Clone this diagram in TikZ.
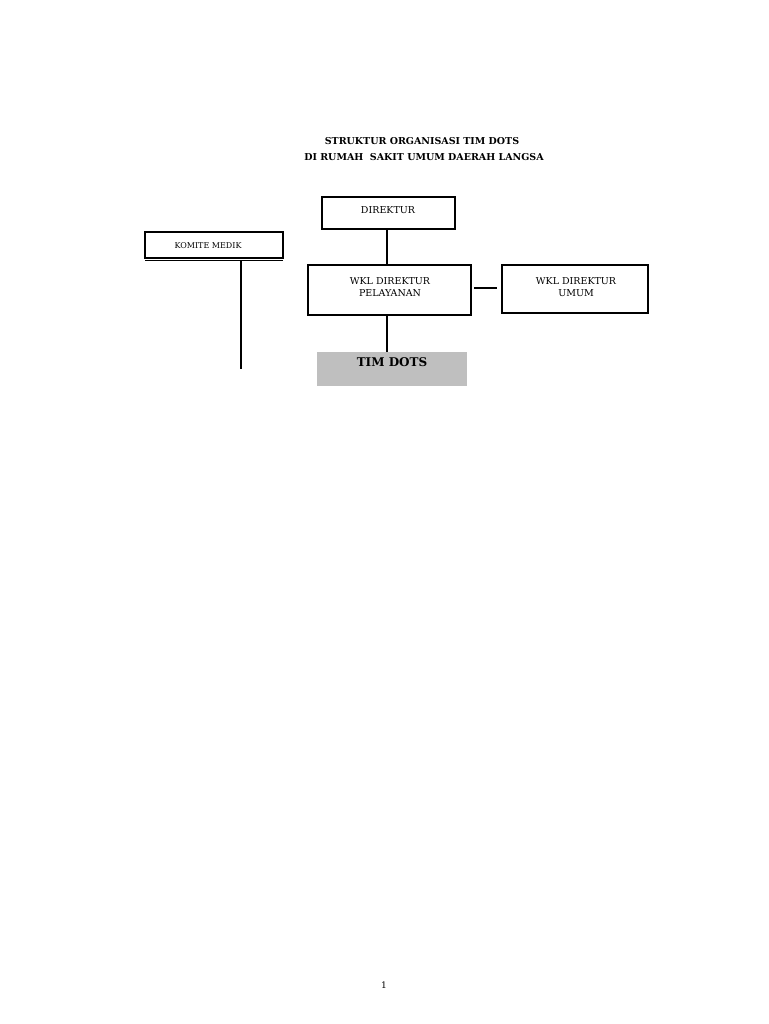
\documentclass[tikz,border=0pt]{standalone}
\usepackage{fontspec}
\setmainfont{DejaVu Serif}
\begin{document}
\begin{tikzpicture}[x=1pt,y=-1pt,
  box/.style={draw,line width=2.6pt,inner sep=0pt},
  conn/.style={line width=2.6pt},
  lbl/.style={font=\fontsize{9.5}{12}\selectfont,align=center,inner sep=0pt}]
\useasboundingbox (0,0) rectangle (768,1024);
\node[font=\bfseries\fontsize{9.5}{12}\selectfont,inner sep=0pt] (t1) at (422,141) {STRUKTUR ORGANISASI TIM DOTS};
\node[font=\bfseries\fontsize{9.5}{12}\selectfont,inner sep=0pt] (t2) at (424,157) {DI RUMAH\ \ SAKIT UMUM DAERAH LANGSA};
\node[box,minimum width=133pt,minimum height=32pt] (dir) at (388.5,213) {};
\node[lbl] at (388,210) {DIREKTUR};
\node[box,line width=2pt,minimum width=138pt,minimum height=26pt] (kom) at (214,245) {};
\draw[line width=1pt] (145,260) -- (283,260);
\node[lbl,font=\fontsize{8}{10}\selectfont] at (208,246) {KOMITE MEDIK};
\node[box,minimum width=163pt,minimum height=50pt] (pel) at (389.5,290) {};
\node[lbl] at (390,287) {WKL DIREKTUR\\PELAYANAN};
\node[box,minimum width=146pt,minimum height=48pt] (umum) at (575,289) {};
\node[lbl] at (576,287) {WKL DIREKTUR\\UMUM};
\node[fill=black!25,minimum width=150pt,minimum height=34pt,inner sep=0pt] (tim) at (392,369) {};
\node[font=\bfseries\fontsize{12}{14}\selectfont,inner sep=0pt] at (392,362) {TIM DOTS};
\coordinate (kend) at (241,369);
\draw[conn] (241,260) -- (kend);
\draw[conn] (dir.south -| 387,0) -- (pel.north -| 387,0);
\draw[conn] (474,288) -- (497,288);
\draw[conn] (pel.south -| 387,0) -- (tim.north -| 387,0);
\node[font=\fontsize{9}{11}\selectfont] (pg) at (384,985) {1};
\end{tikzpicture}
\end{document}
